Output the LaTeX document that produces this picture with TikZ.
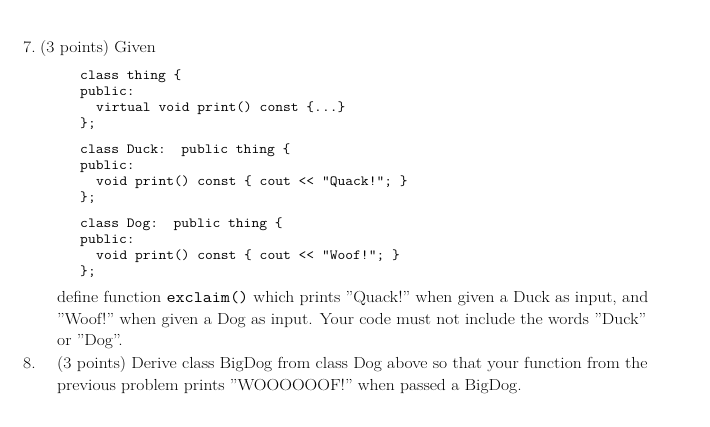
\documentclass[tikz,border=0pt]{standalone}
\begin{document}
\begin{tikzpicture}[x=1pt,y=-1pt,
  txt/.style={anchor=base west,inner sep=0pt,xscale=1.1,transform shape,font=\fontsize{16}{18}\selectfont},
  code/.style={anchor=base west,inner sep=0pt,xscale=1.08,transform shape,font=\fontsize{14}{16}\selectfont\ttfamily}]
\useasboundingbox (0,0) rectangle (710,426);
\node[txt] (n7) at (23,52) {7.};
\node[txt] (h7) at (40,52) {(3 points) Given};
\node[code] (c1) at (80,79) {class thing \{};
\node[code] (c2) at (80,95) {public:};
\node[code] (c3) at (96,111) {virtual void print() const \{...\}};
\node[code] (c4) at (80,127) {\};};
\node[code] (c5) at (80,153) {class Duck:\ \ public thing \{};
\node[code] (c6) at (80,169) {public:};
\node[code] (c7) at (96,185) {void print() const \{ cout << "Quack!"; \}};
\node[code] (c8) at (80,201) {\};};
\node[code] (c9) at (80,227) {class Dog:\ \ public thing \{};
\node[code] (c10) at (80,243) {public:};
\node[code] (c11) at (96,259) {void print() const \{ cout << "Woof!"; \}};
\node[code] (c12) at (80,275) {\};};
\node[txt] (p1) at (57,302) {define function \texttt{exclaim()} which prints "Quack!" when given a Duck as input, and};
\node[txt] (p2) at (57,324) {"Woof!" when given a Dog as input. Your code must not include the words "Duck"};
\node[txt] (p3) at (57,345) {or "Dog".};
\node[txt] (n8) at (23,368) {8.};
\node[txt] (q1) at (57,368) {(3 points) Derive class BigDog from class Dog above so that your function from the};
\node[txt] (q2) at (57,390) {previous problem prints "WOOOOOOF!" when passed a BigDog.};
\end{tikzpicture}
\end{document}
